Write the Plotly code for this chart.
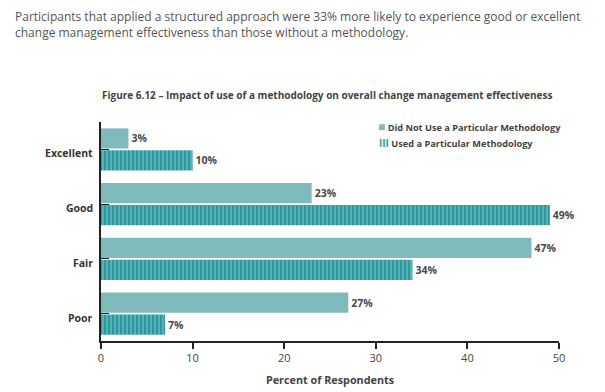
import plotly.graph_objects as go

categories = ["Excellent", "Good", "Fair", "Poor"]
did_not_use = [3, 23, 47, 27]
used = [10, 49, 34, 7]
series_names = ["Did Not Use a Particular Methodology", "Used a Particular Methodology"]
x_ticks = [0, 10, 20, 30, 40, 50]

FONT = "Open Sans"
LIGHT = "#80BBBC"
DARK = "#2A9AA0"

# body margin of 8px in the page -> compensate
OFF = 8
L, PW, T, PH = 101 - OFF, 458, 122 - OFF, 219

fig = go.Figure()
fig.add_trace(go.Bar(
    y=categories, x=did_not_use, orientation="h", name=series_names[0],
    marker=dict(color=LIGHT, line=dict(width=0)),
    texttemplate="<b>%{x}%</b>", textposition="outside",
    textfont=dict(family=FONT, size=10.5, color="#484848"),
    cliponaxis=False,
))
fig.add_trace(go.Bar(
    y=categories, x=used, orientation="h", name=series_names[1],
    marker=dict(color=DARK, line=dict(width=0),
                pattern=dict(shape="|", fgcolor="#E8F4F4", bgcolor=DARK,
                             size=4, solidity=0.25)),
    texttemplate="<b>%{x}%</b>", textposition="outside",
    textfont=dict(family=FONT, size=10.5, color="#484848"),
    cliponaxis=False,
))

def px_x(x):
    return (x - (L + OFF)) / PW

def px_y(y):
    return 1 - (y - (T + OFF)) / PH

annotations = [
    dict(text="Participants that applied a structured approach were 33% more likely to experience good or excellent<br>change management effectiveness than those without a methodology.",
         xref="paper", yref="paper", x=px_x(13), y=px_y(6), xanchor="left", yanchor="top",
         align="left", showarrow=False,
         font=dict(family=FONT, size=12, color="#555555")),
    dict(text="<b>Figure 6.12 – Impact of use of a methodology on overall change management effectiveness</b>",
         xref="paper", yref="paper", x=px_x(327), y=px_y(95), xanchor="center", yanchor="middle",
         showarrow=False, font=dict(family=FONT, size=10, color="#444444")),
    dict(text=f"<span style='font-size:12px;color:{LIGHT}'>■</span> <b>{series_names[0]}</b>",
         xref="paper", yref="paper", x=px_x(375.5), y=px_y(127), xanchor="left", yanchor="middle",
         showarrow=False, font=dict(family=FONT, size=9.2, color="#444444")),
    dict(text=f"<b><span style='font-size:10px;color:{DARK}'>III</span></b> <b>{series_names[1]}</b>",
         xref="paper", yref="paper", x=px_x(376.5), y=px_y(142.5), xanchor="left", yanchor="middle",
         showarrow=False, font=dict(family=FONT, size=9.2, color="#444444")),
]
for c in categories:
    annotations.append(dict(
        text=f"<b>{c}</b>", xref="paper", yref="y", x=px_x(95), y=c,
        xanchor="right", yanchor="middle", yshift=-4, showarrow=False,
        font=dict(family=FONT, size=10.5, color="#333333")))

fig.update_layout(
    width=605, height=392,
    margin=dict(l=L, r=605 - L - PW, t=T, b=392 - T - PH, autoexpand=False),
    paper_bgcolor="white", plot_bgcolor="white",
    barmode="group", bargap=0.2, bargroupgap=0.08,
    font=dict(family=FONT, color="#444444"),
    showlegend=False,
    xaxis=dict(range=[0, 50], tickvals=x_ticks, showgrid=False, zeroline=False,
               showline=True, linecolor="#222222", linewidth=1.5,
               ticks="outside", ticklen=6, tickcolor="#222222", tickwidth=1.5,
               tickfont=dict(family=FONT, size=11, color="#444444"),
               automargin=False,
               title=dict(text="<b>Percent of Respondents</b>",
                          font=dict(family=FONT, size=10.8, color="#444444"), standoff=12)),
    yaxis=dict(categoryorder="array", categoryarray=categories, autorange="reversed",
               showticklabels=False,
               showgrid=False, zeroline=False, showline=True, linecolor="#222222", linewidth=1.5,
               ticks="inside", ticklen=8, tickcolor="#222222", tickwidth=1.2,
               automargin=False),
    annotations=annotations,
)

fig.write_html("out.html")
